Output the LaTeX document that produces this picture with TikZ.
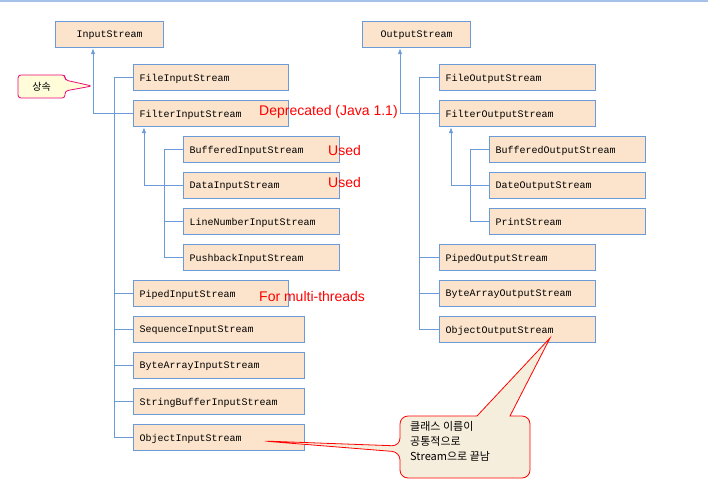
\documentclass[tikz,border=0pt]{standalone}
\usepackage{fontspec}
\setmainfont{Liberation Sans}
\setmonofont{Liberation Mono}
\newfontfamily\kr{Noto Sans CJK KR}
\usetikzlibrary{arrows.meta}
\definecolor{bfill}{HTML}{FCE4CC}
\definecolor{bline}{HTML}{6A9BD8}
\definecolor{cfill}{HTML}{F6EEDD}
\begin{document}
\begin{tikzpicture}[x=1pt,y=-1pt,
  cls/.style={draw=bline,line width=1.2pt,fill=bfill,inner sep=0pt,anchor=north west,font=\ttfamily\fontsize{10}{12}\selectfont,align=left},
  conn/.style={draw=bline,line width=0.9pt},
  inh/.style={conn,-{Latex[length=6pt,width=4.5pt]}},
  note/.style={text=red,font=\fontsize{14}{16}\selectfont,anchor=west,inner sep=0pt}]
\useasboundingbox (0,0) rectangle (708,492);
\fill[bline!60] (0,0) rectangle (708,2);
% left
\newcommand{\bx}[6]{\node[cls,minimum width=#4-#2,minimum height=#5-#3,text width=#4-#2-12,text depth=0pt] (#1) at (#2,#3) {\hspace*{0pt}#6};}
\bx{is}{55}{21}{163}{47}{\hfill InputStream\hfill\null}
\bx{fis}{133}{64}{288}{90}{FileInputStream}
\bx{filis}{133}{100}{288}{126}{FilterInputStream}
\bx{bis}{183}{136}{339}{162}{BufferedInputStream}
\bx{dis}{183}{172}{339}{198}{DataInputStream}
\bx{lis}{183}{208}{339}{234}{LineNumberInputStream}
\bx{pbis}{183}{244}{339}{270}{PushbackInputStream}
\bx{pis}{133}{280}{288}{306}{PipedInputStream}
\bx{sis}{133}{316}{304}{342}{SequenceInputStream}
\bx{bais}{133}{352}{304}{378}{ByteArrayInputStream}
\bx{sbis}{133}{388}{304}{414}{StringBufferInputStream}
\bx{ois}{133}{424}{304}{450}{ObjectInputStream}
% right
\bx{os}{362}{21}{470}{47}{\hfill OutputStream\hfill\null}
\bx{fos}{439}{64}{595}{90}{FileOutputStream}
\bx{filos}{439}{100}{595}{126}{FilterOutputStream}
\bx{bos}{489}{136}{645}{162}{BufferedOutputStream}
\bx{dos}{489}{172}{645}{198}{DateOutputStream}
\bx{ps}{489}{208}{645}{234}{PrintStream}
\bx{pos}{439}{244}{595}{270}{PipedOutputStream}
\bx{baos}{439}{280}{595}{306}{ByteArrayOutputStream}
\bx{oos}{439}{316}{595}{342}{ObjectOutputStream}
% connectors left
\draw[inh] (filis.west) -| (is.south -| 93,0);
\draw[conn] (114,77) -- (114,437);
\foreach \n in {fis,pis,sis,bais,sbis,ois}{\draw[conn] (\n.west) -- (\n.west -| 114,0);}
\draw[inh] (dis.west) -| (filis.south -| 144,0);
\draw[conn] (164,149) -- (164,257);
\foreach \n in {bis,lis,pbis}{\draw[conn] (\n.west) -- (\n.west -| 164,0);}
% connectors right
\draw[inh] (filos.west) -| (os.south -| 400,0);
\draw[conn] (419,77) -- (419,329);
\foreach \n in {fos,pos,baos,oos}{\draw[conn] (\n.west) -- (\n.west -| 419,0);}
\draw[inh] (dos.west) -| (filos.south -| 451,0);
\draw[conn] (470,149) -- (470,221);
\foreach \n in {bos,ps}{\draw[conn] (\n.west) -- (\n.west -| 470,0);}
% notes
\node[note] (n1) at (259,112) {Deprecated (Java 1.1)};
\node[note] (n2) at (328,150) {Used};
\node[note] (n3) at (328,182) {Used};
\node[note] (n4) at (259,296) {For multi-threads};
% callout inherit
\coordinate (tip1) at (92,86);
\draw[magenta!80!red,fill=yellow!15,line width=0.8pt,rounded corners=3pt]
  (65,80) -- (tip1) -- (65,91) -- (65,98) -- (18,98) -- (18,75) -- (65,75) -- cycle;
\node[font=\kr\fontsize{10}{12}\selectfont] (c1) at (41.5,86.5) {상속};
% callout 2
\coordinate (tip2) at (550,338);
\coordinate (tip3) at (263,441);
\draw[red,fill=cfill,line width=0.8pt]
  (420,416) -- (477,416) -- (tip2) -- (510,416) -- (522,416) arc (-90:0:0) [rounded corners=8pt] -- (530,416) -- (530,478) -- (400,478) -- (400,452) -- (tip3) -- (400,446) -- (400,416) -- cycle;
\node[anchor=north west,align=left,inner sep=0pt,font=\kr\fontsize{11}{15}\selectfont] (c2) at (410,421) {클래스 이름이\\공통적으로\\Stream으로 끝남};
\end{tikzpicture}
\end{document}
